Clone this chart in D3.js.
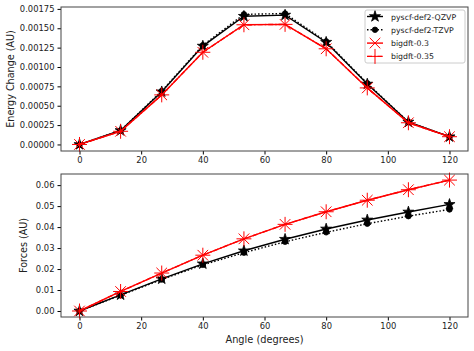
<!DOCTYPE html>
<html>
<head>
<meta charset="utf-8">
<script src="https://cdn.jsdelivr.net/npm/d3@7"></script>
<style>
  body { margin: 0; background: #fff; }
  text { font-family: "DejaVu Sans", sans-serif; fill: #222; }
</style>
</head>
<body>
<div id="chart"></div>
<script>
const angles = [0, 13.33, 26.67, 40, 53.33, 66.67, 80, 93.33, 106.67, 120];

const energyQZVP = [0, 0.00018, 0.00068, 0.00127, 0.001655, 0.00167, 0.00132, 0.00078, 0.00029, 0.00010];
const energyTZVP = [0, 0.00018, 0.00069, 0.00128, 0.00168, 0.00169, 0.00133, 0.00079, 0.00029, 0.00010];
const energyB03 = [0, 0.00017, 0.00064, 0.00119, 0.001545, 0.00155, 0.001235, 0.00073, 0.00028, 0.00010];
const energyB035 = [0, 0.00017, 0.00064, 0.00119, 0.001545, 0.00155, 0.001235, 0.00073, 0.00028, 0.00010];

const forceQZVP = [0, 0.0077, 0.0153, 0.0225, 0.0287, 0.0342, 0.0391, 0.0434, 0.0472, 0.0508];
const forceTZVP = [0, 0.0075, 0.0150, 0.0220, 0.0278, 0.0330, 0.0375, 0.0416, 0.0452, 0.0484];
const forceB03 = [0, 0.0093, 0.0181, 0.0266, 0.0344, 0.0413, 0.0473, 0.0528, 0.0578, 0.0624];
const forceB035 = [0, 0.0093, 0.0181, 0.0266, 0.0344, 0.0413, 0.0473, 0.0528, 0.0578, 0.0624];

const energyTicks = [0, 0.00025, 0.0005, 0.00075, 0.001, 0.00125, 0.0015, 0.00175];
const forceTicks = [0, 0.01, 0.02, 0.03, 0.04, 0.05, 0.06];
const angleTicks = [0, 20, 40, 60, 80, 100, 120];

const seriesInfo = [
    { name: "pyscf-def2-QZVP", color: "black", dash: null, symbol: d3.symbolStar, size: 38, fill: true },
    { name: "pyscf-def2-TZVP", color: "black", dash: "1.5,2", symbol: d3.symbolCircle, size: 24, fill: true },
    { name: "bigdft-0.3", color: "red", dash: null, symbol: d3.symbolTimes, size: 75, fill: false },
    { name: "bigdft-0.35", color: "red", dash: "5,2,1.5,2", symbol: d3.symbolPlus, size: 75, fill: false }
];

const width = 474, height = 351;
const svg = d3.select("#chart").append("svg")
    .attr("width", width)
    .attr("height", height);

const x = d3.scaleLinear().domain([-6, 126]).range([61, 468]);

function drawPanel(top, bottom, yDomain, ticks, fmt, seriesData, label, labelX) {
    const y = d3.scaleLinear().domain(yDomain).range([bottom, top]);
    const g = svg.append("g");

    g.append("g")
        .attr("transform", `translate(0,${bottom})`)
        .call(d3.axisBottom(x).tickValues(angleTicks).tickSize(3.5).tickPadding(3).tickFormat(d3.format("d")))
        .call(a => a.select(".domain").remove())
        .call(a => a.selectAll("text").style("font-size", "8.4px"));

    g.append("g")
        .attr("transform", `translate(61,0)`)
        .call(d3.axisLeft(y).tickValues(ticks).tickSize(3.5).tickPadding(3).tickFormat(fmt))
        .call(a => a.select(".domain").remove())
        .call(a => a.selectAll("text").style("font-size", "8.4px"));

    seriesData.forEach((vals, i) => {
        const s = seriesInfo[i];
        const pts = angles.map((a, j) => ({ a: a, v: vals[j] }));
        g.append("path")
            .datum(pts)
            .attr("fill", "none")
            .attr("stroke", s.color)
            .attr("stroke-width", 1.4)
            .attr("stroke-dasharray", s.dash)
            .attr("d", d3.line().x(d => x(d.a)).y(d => y(d.v)));
        g.selectAll(null)
            .data(pts)
            .join("path")
            .attr("transform", d => `translate(${x(d.a)},${y(d.v)})`)
            .attr("d", d3.symbol(s.symbol, s.size))
            .attr("fill", s.fill ? s.color : "none")
            .attr("stroke", s.color)
            .attr("stroke-width", s.fill ? 0.8 : 1);
    });

    g.append("rect")
        .attr("x", 61).attr("y", top)
        .attr("width", 407).attr("height", bottom - top)
        .attr("fill", "none")
        .attr("stroke", "#444")
        .attr("stroke-width", 1);

    g.append("text")
        .attr("transform", `translate(${labelX},${(top + bottom) / 2}) rotate(-90)`)
        .attr("text-anchor", "middle")
        .style("font-size", "9.6px")
        .text(label);

    return g;
}

drawPanel(7, 151, [-0.0000845, 0.0017745], energyTicks, d3.format(".5f"),
    [energyQZVP, energyTZVP, energyB03, energyB035], "Energy Change (AU)", 14);

drawPanel(174, 317, [-0.00286, 0.0653], forceTicks, d3.format(".2f"),
    [forceQZVP, forceTZVP, forceB03, forceB035], "Forces (AU)", 27);

svg.append("text")
    .attr("x", 264.5).attr("y", 343)
    .attr("text-anchor", "middle")
    .style("font-size", "9.8px")
    .text("Angle (degrees)");

// legend
const legend = svg.append("g").attr("transform", "translate(365,10)");
legend.append("rect")
    .attr("width", 100).attr("height", 53)
    .attr("rx", 2)
    .attr("fill", "white").attr("fill-opacity", 0.8)
    .attr("stroke", "#ccc");
seriesInfo.forEach((s, i) => {
    const ly = 6.5 + i * 13.3;
    legend.append("line")
        .attr("x1", 2).attr("x2", 18).attr("y1", ly).attr("y2", ly)
        .attr("stroke", s.color).attr("stroke-width", 1.4)
        .attr("stroke-dasharray", s.dash);
    legend.append("path")
        .attr("transform", `translate(10,${ly})`)
        .attr("d", d3.symbol(s.symbol, s.size)())
        .attr("fill", s.fill ? s.color : "none")
        .attr("stroke", s.color)
        .attr("stroke-width", s.fill ? 0.8 : 1);
    legend.append("text")
        .attr("x", 26).attr("y", ly + 3)
        .style("font-size", "7.8px")
        .text(s.name);
});
</script>
</body>
</html>
